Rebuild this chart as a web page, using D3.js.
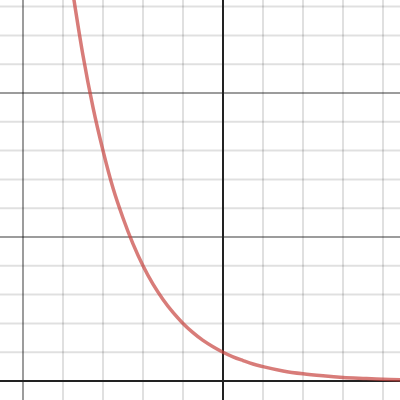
<!DOCTYPE html>
<html>
<head>
<meta charset="utf-8">
<script src="https://cdn.jsdelivr.net/npm/d3@7"></script>
<style>
  html, body { margin: 0; padding: 0; background: #fff; }
  svg { display: block; }
</style>
</head>
<body>
<div id="chart"></div>
<script>
// curve points
const curveX = [-3.8, -3.5, -3.25, -3, -2.75, -2.5, -2.25, -2, -1.75, -1.5, -1.25, -1, -0.75, -0.5, -0.25, 0,
                0.25, 0.5, 0.75, 1, 1.5, 2, 2.5, 3, 3.5, 4, 4.5];
const curveY = [13.9, 11.3, 9.5, 8.0, 6.7, 5.66, 4.76, 4.0, 3.36, 2.83, 2.38, 2.0, 1.68, 1.41, 1.19, 1.0,
                0.84, 0.71, 0.59, 0.5, 0.35, 0.25, 0.18, 0.125, 0.09, 0.06, 0.045];

// grid ticks
const minorX = d3.range(-5, 5, 1);
const majorX = [-5];
const minorY = d3.range(-1, 14, 1);
const majorY = [5, 10];

let width = 400, height = 400;

let svg = d3.select("#chart").append("svg")
  .attr("width", width)
  .attr("height", height);

// x: 0 at px 223, 40px per unit; y: 0 at px 381, 28.8px per unit
let xScale = d3.scaleLinear().domain([-5.575, 4.425]).range([0, width]);
let yScale = d3.scaleLinear().domain([-0.66, 13.229]).range([height, 0]);

function gridX(g, ticks, color, opacity, w) {
  g.attr("transform", `translate(0, ${height})`)
    .call(d3.axisBottom(xScale).tickValues(ticks).tickSize(-height).tickFormat("").offset(0))
    .call(g => g.select(".domain").remove())
    .call(g => g.selectAll("line").attr("stroke", color).attr("stroke-opacity", opacity).attr("stroke-width", w));
}
function gridY(g, ticks, color, opacity, w) {
  g.call(d3.axisLeft(yScale).tickValues(ticks).tickSize(-width).tickFormat("").offset(0))
    .call(g => g.select(".domain").remove())
    .call(g => g.selectAll("line").attr("stroke", color).attr("stroke-opacity", opacity).attr("stroke-width", w));
}

// minor grid
svg.append("g").call(gridX, minorX, "#000", 0.12, 2);
svg.append("g").call(gridY, minorY, "#000", 0.12, 2);
// major grid
svg.append("g").call(gridX, majorX, "#000", 0.3, 2);
svg.append("g").call(gridY, majorY, "#000", 0.3, 2);
// axes
svg.append("g").call(gridX, [0], "#222", 1, 2);
svg.append("g").call(gridY, [0], "#222", 1, 2);

// the curve
let pts = curveX.map((x, i) => [x, curveY[i]]);
let line = d3.line()
  .x(d => xScale(d[0]))
  .y(d => yScale(d[1]))
  .curve(d3.curveMonotoneX);

svg.append("path")
  .datum(pts)
  .attr("d", line)
  .attr("fill", "none")
  .attr("stroke", "#c74440")
  .attr("stroke-opacity", 0.7)
  .attr("stroke-width", 3.5)
  .attr("stroke-linejoin", "round");
</script>
</body>
</html>
